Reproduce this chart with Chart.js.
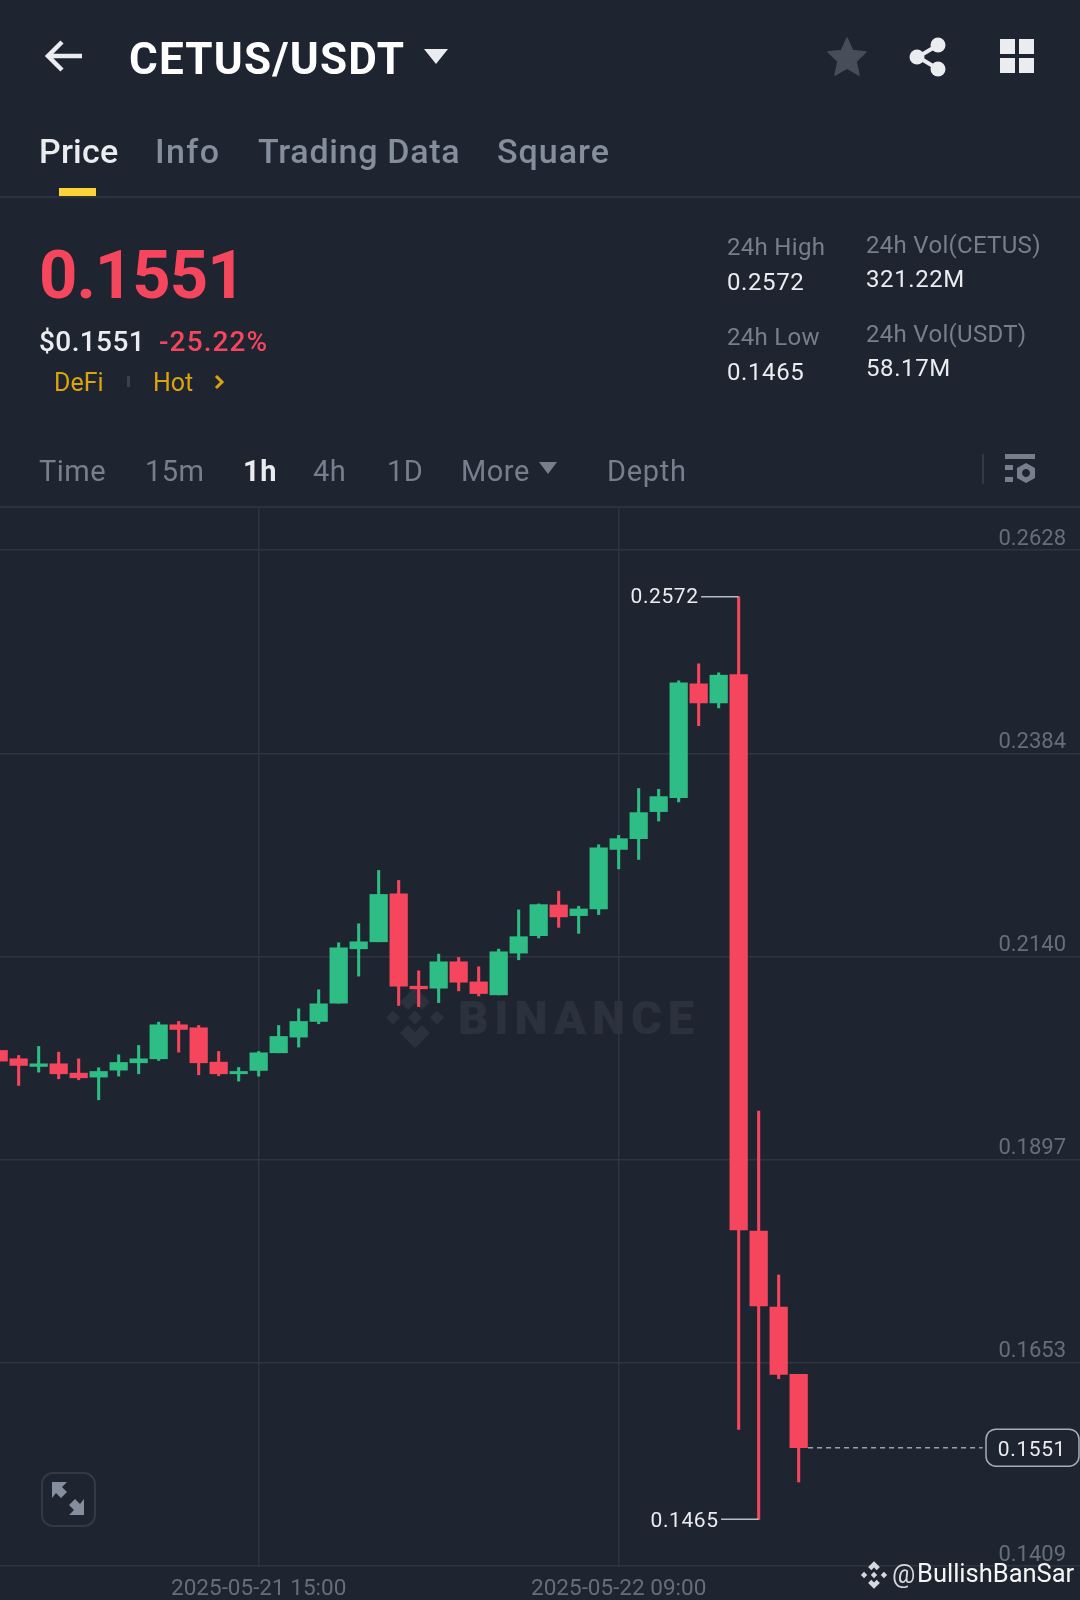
<!DOCTYPE html>
<html>
<head>
<meta charset="utf-8">
<title>CETUS/USDT</title>
<script src="https://cdn.jsdelivr.net/npm/chart.js@4"></script>
<style>
  html, body { margin: 0; padding: 0; background: #1f2530; }
  #page { position: relative; width: 1080px; height: 1600px; overflow: hidden; background: #1f2530;
    font-family: Roboto, sans-serif; color: #848e9c; }
  #page canvas { position: absolute; left: 0; top: 0; }
  .t { position: absolute; white-space: nowrap; transform: translateY(-50%); line-height: 1; }
  .tab { font-size: 34px; font-weight: 500; letter-spacing: 0.6px; top: 151px; color: #848e9c; }
  .stat { font-size: 24px; letter-spacing: 0.3px; color: #777f8d; }
  .val { font-size: 24px; letter-spacing: 0.6px; color: #eaecef; }
  .tf { font-size: 29px; letter-spacing: 0.5px; top: 471px; color: #777f8d; }
  .rule { position: absolute; left: 0; width: 1080px; height: 2px; background: #2b323d; }
  svg { position: absolute; }
</style>
</head>
<body>
<div id="page">
  <!-- watermark sits under the transparent canvas -->
  <svg style="left:384px;top:987px" width="62" height="61" viewBox="0 0 62 61" fill="#2c323d">
    <path d="M31 0 L46 15 L38 23 L31 16 L24 23 L16 15 Z"/>
    <path d="M31 61 L16 46 L24 38 L31 45 L38 38 L46 46 Z"/>
    <path d="M9 23.5 L16 30.5 L9 37.5 L2 30.5 Z"/>
    <path d="M53 23.5 L60 30.5 L53 37.5 L46 30.5 Z"/>
    <path d="M31 23.5 L38 30.5 L31 37.5 L24 30.5 Z"/>
  </svg>
  <div class="t" style="left:458px;top:1017px;font-size:47px;font-weight:900;letter-spacing:6px;color:#2c323d">BINANCE</div>

  <canvas id="chart" width="1080" height="1600"></canvas>

  <!-- top bar -->
  <svg style="left:44px;top:38px" width="40" height="36" viewBox="0 0 40 36" fill="none" stroke="#eaecef" stroke-width="4.5">
    <path d="M38 18 H5 M18 4 L4 18 L18 32"/>
  </svg>
  <div class="t" style="left:129px;top:59px;font-size:44px;font-weight:700;letter-spacing:1.2px;color:#fff">CETUS/USDT</div>
  <svg style="left:424px;top:49px" width="24" height="16" viewBox="0 0 24 16" fill="#eaecef"><path d="M0 0 H24 L12 15 Z"/></svg>
  <svg style="left:827px;top:37px" width="40" height="40" viewBox="0 0 40 40" fill="#474d59">
    <path d="M20 1 L25.6 13.6 L39 15 L29 24.4 L32 38 L20 31 L8 38 L11 24.4 L1 15 L14.4 13.6 Z" stroke="#474d59" stroke-width="1.5" stroke-linejoin="round"/>
  </svg>
  <svg style="left:909px;top:36px" width="40" height="42" viewBox="0 0 40 42" fill="#eaecef">
    <path d="M29 9 L9 21 L29 33" fill="none" stroke="#eaecef" stroke-width="4"/>
    <circle cx="29" cy="9" r="7.5"/><circle cx="8" cy="21" r="7.5"/><circle cx="29" cy="33" r="7.5"/>
  </svg>
  <svg style="left:1000px;top:39px" width="34" height="34" viewBox="0 0 34 34" fill="#eaecef">
    <rect width="15" height="15"/><rect x="19" width="15" height="15"/>
    <rect y="19" width="15" height="15"/><rect x="19" y="19" width="15" height="15"/>
  </svg>

  <!-- tabs -->
  <div class="t tab" style="left:39px;color:#eaecef;letter-spacing:0.2px">Price</div>
  <div class="t tab" style="left:155px;letter-spacing:1.4px">Info</div>
  <div class="t tab" style="left:258px;letter-spacing:0.7px">Trading Data</div>
  <div class="t tab" style="left:497px;letter-spacing:1px">Square</div>
  <div style="position:absolute;left:59px;top:188px;width:37px;height:8px;background:#fcd535"></div>
  <div class="rule" style="top:196px"></div>

  <!-- price block -->
  <div class="t" style="left:39px;top:275px;font-size:67px;font-weight:700;letter-spacing:-1px;color:#f6465d">0.1551</div>
  <div class="t" style="left:39px;top:342px;font-size:28px;font-weight:500;letter-spacing:0.4px;color:#eaecef">$0.1551</div>
  <div class="t" style="left:159px;top:342px;font-size:28px;font-weight:500;letter-spacing:1.1px;color:#f6465d">-25.22%</div>
  <div class="t" style="left:54px;top:382px;font-size:25px;color:#d9a40e">DeFi</div>
  <div style="position:absolute;left:127px;top:376px;width:3px;height:11px;background:#3a414d"></div>
  <div class="t" style="left:153px;top:382px;font-size:25px;color:#d9a40e">Hot</div>
  <svg style="left:213px;top:373px" width="12" height="18" viewBox="0 0 12 18" fill="none" stroke="#d9a40e" stroke-width="3"><path d="M3 3 L9 9 L3 15"/></svg>

  <div class="t stat" style="left:727px;top:247px">24h High</div>
  <div class="t val" style="left:727px;top:282px">0.2572</div>
  <div class="t stat" style="left:727px;top:337px">24h Low</div>
  <div class="t val" style="left:727px;top:372px">0.1465</div>
  <div class="t stat" style="left:866px;top:245px">24h Vol(CETUS)</div>
  <div class="t val" style="left:866px;top:279px">321.22M</div>
  <div class="t stat" style="left:866px;top:334px">24h Vol(USDT)</div>
  <div class="t val" style="left:866px;top:368px">58.17M</div>

  <!-- timeframe row -->
  <div class="t tf" style="left:39px">Time</div>
  <div class="t tf" style="left:145px">15m</div>
  <div class="t tf" style="left:243px;color:#eaecef;font-weight:700">1h</div>
  <div class="t tf" style="left:313px">4h</div>
  <div class="t tf" style="left:387px">1D</div>
  <div class="t tf" style="left:461px">More</div>
  <svg style="left:539px;top:462px" width="18" height="12" viewBox="0 0 18 12" fill="#777f8d"><path d="M0 0 H18 L9 12 Z"/></svg>
  <div class="t tf" style="left:607px;letter-spacing:0.7px">Depth</div>
  <div style="position:absolute;left:982px;top:454px;width:2px;height:30px;background:#333a46"></div>
  <svg style="left:1005px;top:453px" width="32" height="32" viewBox="0 0 32 32" fill="#777f8d">
    <rect y="1" width="30" height="5"/><rect y="12" width="8" height="5"/><rect y="24" width="8" height="5"/>
    <path d="M21 10 L30 15 V25 L21 30 L12 25 V15 Z M21 16 A4 4 0 1 0 21.01 16 Z" fill-rule="evenodd"/>
  </svg>
  <div class="rule" style="top:506px"></div>

  <!-- fullscreen button -->
  <div style="position:absolute;left:41px;top:1472px;width:51px;height:51px;border:2px solid #333a46;border-radius:12px"></div>
  <svg style="left:51px;top:1482px" width="34" height="34" viewBox="0 0 34 34" fill="#848e9c">
    <path d="M1 0 H16 L11 5 L16 10 L10 16 L5 11 L1 16 Z"/>
    <path d="M33 33 H18 L23 28 L18 23 L24 17 L29 22 L33 17 Z"/>
  </svg>

  <!-- corner credit -->
  <svg style="left:860px;top:1561px" width="28" height="28" viewBox="0 0 62 61" fill="#d5d8dc">
    <path d="M31 0 L44 13 L37 20 L31 14 L25 20 L18 13 Z"/>
    <path d="M31 61 L18 48 L25 41 L31 47 L37 41 L44 48 Z"/>
    <path d="M9 23.5 L16 30.5 L9 37.5 L2 30.5 Z"/>
    <path d="M53 23.5 L60 30.5 L53 37.5 L46 30.5 Z"/>
    <path d="M31 23.5 L38 30.5 L31 37.5 L24 30.5 Z"/>
  </svg>
  <div class="t" style="left:892px;top:1574px;font-size:26px;color:#d5d8dc">@</div>
  <div class="t" style="left:917px;top:1574px;font-size:25.5px;color:#f5f5f5">BullishBanSar</div>
</div>

<script>
// candles, one per hour, left to right
const opens = [0.20276, 0.20176, 0.20084, 0.20116, 0.20004, 0.19956, 0.2004, 0.20128, 0.20176, 0.20584,
  0.20548, 0.20136, 0.19996, 0.20036, 0.20248, 0.20436, 0.20624, 0.20844, 0.21496, 0.2158,
  0.22156, 0.21047, 0.21023, 0.2134, 0.21099, 0.20943, 0.21444, 0.21653, 0.22022, 0.21894,
  0.21974, 0.22688, 0.22817, 0.23142, 0.2331, 0.24675, 0.24446, 0.24787, 0.1811, 0.17198, 0.1639];
const closes = [0.20148, 0.20096, 0.20116, 0.19996, 0.19948, 0.20024, 0.20132, 0.20176, 0.20584, 0.20528,
  0.20128, 0.19996, 0.20024, 0.20248, 0.20444, 0.20624, 0.20836, 0.21508, 0.2158, 0.22148,
  0.21048, 0.21015, 0.2134, 0.21095, 0.20959, 0.2146, 0.21641, 0.22026, 0.21878, 0.21974,
  0.22708, 0.22817, 0.2313, 0.23322, 0.24687, 0.24446, 0.24779, 0.18122, 0.1721, 0.1639, 0.1551];
const highs = [0.2028, 0.20216, 0.20324, 0.20256, 0.20176, 0.20068, 0.20224, 0.20336, 0.20616, 0.20624,
  0.20576, 0.20264, 0.20072, 0.20264, 0.20576, 0.20776, 0.21004, 0.21568, 0.21796, 0.22436,
  0.22316, 0.21231, 0.21432, 0.21392, 0.2128, 0.21492, 0.21962, 0.22034, 0.22187, 0.22006,
  0.22744, 0.22857, 0.23419, 0.2341, 0.24711, 0.24915, 0.24807, 0.2572, 0.1955, 0.17582, 0.1639];
const lows = [0.2015, 0.19856, 0.20016, 0.19936, 0.19924, 0.19684, 0.19968, 0.19996, 0.20156, 0.20256,
  0.19984, 0.19972, 0.19908, 0.19968, 0.20248, 0.20316, 0.20596, 0.20844, 0.21168, 0.2158,
  0.20816, 0.20802, 0.2085, 0.20991, 0.2093, 0.20943, 0.21364, 0.21625, 0.21753, 0.21681,
  0.21906, 0.22455, 0.22568, 0.23029, 0.23258, 0.24173, 0.24386, 0.1573, 0.1465, 0.16338, 0.15098];

const yTicks = [0.2628, 0.2384, 0.2140, 0.1897, 0.1653, 0.1409];
const xTicks = [13, 31];
const xTickLabels = ['2025-05-21 15:00', '2025-05-22 09:00'];

const lastPrice = 0.1551;
const highLabel = 0.2572;
const lowLabel = 0.1465;

const GREEN = '#2ebd85';
const RED = '#f6465d';
const GRID = '#2f3540';

const candleColors = opens.map((o, i) => closes[i] >= o ? GREEN : RED);
const wicks = lows.map((l, i) => ({ x: i, y: [l, highs[i]] }));
const bodies = opens.map((o, i) => ({ x: i, y: [o, closes[i]] }));

// labels next to the extremes and the boxed last price
const priceLabels = {
  id: 'priceLabels',
  afterDatasetsDraw(chart) {
    const { ctx, scales: { x, y } } = chart;
    ctx.save();
    ctx.font = '21px Roboto';
    ctx.letterSpacing = '0.6px';
    ctx.fillStyle = '#eaecef';
    ctx.textAlign = 'right';
    ctx.textBaseline = 'middle';
    ctx.fillText(highLabel.toFixed(4), x.getPixelForValue(35), y.getPixelForValue(highLabel) + 1);
    ctx.fillText(lowLabel.toFixed(4), x.getPixelForValue(36), y.getPixelForValue(lowLabel) + 2);

    const py = y.getPixelForValue(lastPrice);
    ctx.beginPath();
    ctx.roundRect(986, py - 18.5, 93, 37, 10);
    ctx.fillStyle = '#1f2530';
    ctx.fill();
    ctx.strokeStyle = '#a7adb6';
    ctx.lineWidth = 1.5;
    ctx.stroke();
    ctx.fillStyle = '#eaecef';
    ctx.fillText(lastPrice.toFixed(4), 1066, py + 3);
    ctx.restore();
  }
};

new Chart(document.getElementById('chart'), {
  type: 'bar',
  data: {
    datasets: [
      { data: wicks, backgroundColor: candleColors, barThickness: 2.4, grouped: false, order: 3 },
      { data: bodies, backgroundColor: candleColors, barThickness: 17.6, grouped: false, order: 2 },
      { type: 'line', data: [{ x: 40.47, y: lastPrice }, { x: 49.2, y: lastPrice }], borderColor: '#9aa1ab',
        borderWidth: 1.5, borderDash: [5, 4], pointRadius: 0, order: 1 },
      { type: 'line', data: [{ x: 35.12, y: highLabel }, { x: 37, y: highLabel }], borderColor: '#b7bdc6',
        borderWidth: 1.5, pointRadius: 0, order: 1 },
      { type: 'line', data: [{ x: 36.12, y: lowLabel }, { x: 38, y: lowLabel }], borderColor: '#b7bdc6',
        borderWidth: 1.5, pointRadius: 0, order: 1 }
    ]
  },
  options: {
    responsive: false,
    animation: false,
    devicePixelRatio: 1,
    layout: { padding: { top: 508, left: 0, right: 0, bottom: 0 } },
    plugins: { legend: { display: false }, tooltip: { enabled: false } },
    scales: {
      x: {
        type: 'linear',
        offset: false,
        min: 0.0667,
        max: 54.0667,
        afterBuildTicks: axis => { axis.ticks = xTicks.map(v => ({ value: v })); },
        afterFit: axis => { axis.height = 34; },
        grid: { color: GRID, lineWidth: 1.5, drawTicks: false, offset: false },
        border: { display: false },
        ticks: {
          autoSkip: false,
          maxRotation: 0,
          padding: 10,
          color: '#666e7b',
          font: { family: 'Roboto', size: 22.5 },
          callback: (value, i) => xTickLabels[i]
        }
      },
      y: {
        position: 'right',
        min: 0.1409,
        max: 0.26785,
        afterBuildTicks: axis => { axis.ticks = yTicks.map(v => ({ value: v })); },
        afterFit: axis => { axis.width = 0; },
        grid: { color: GRID, lineWidth: 1.5, drawTicks: false },
        border: { display: false },
        ticks: {
          mirror: true,
          padding: -14,
          labelOffset: -11,
          color: '#666e7b',
          font: { family: 'Roboto', size: 22 },
          callback: value => value.toFixed(4)
        }
      }
    }
  },
  plugins: [priceLabels]
});
</script>
</body>
</html>
